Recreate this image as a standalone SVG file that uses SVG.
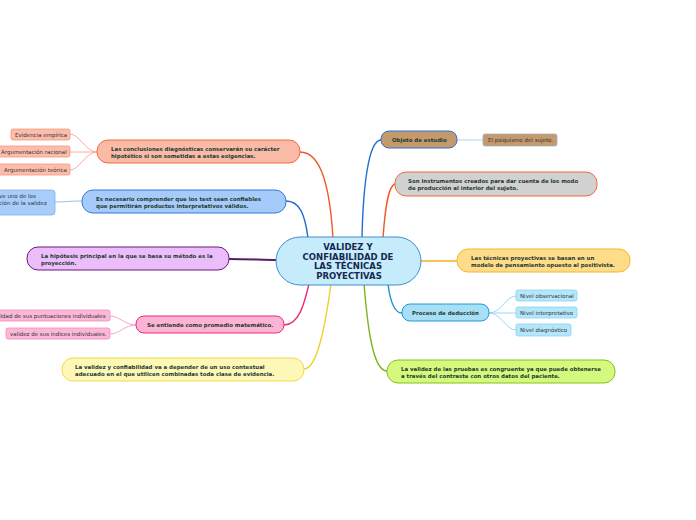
<svg xmlns="http://www.w3.org/2000/svg" width="696" height="520" viewBox="0 0 696 520">
<style>
text{font-family:"DejaVu Sans","Liberation Sans",Arial,sans-serif;}
.t{font-size:5.45px;font-weight:bold;fill:#1f3a30;}
.c{font-size:5.5px;fill:#333333;}
.ctr{font-size:8.5px;font-weight:bold;fill:#15284f;}
.conn path{fill:none;stroke-linecap:round;}
</style>
<rect width="696" height="520" fill="#ffffff"/>
<g id="connectors" class="conn">
<path d="M300,152 C322,152 330,190 333,238" stroke="#f05a28" stroke-width="1.4"/>
<path d="M286,201 C300,201 305,215 308,238" stroke="#1f6fd0" stroke-width="1.4"/>
<path d="M229,259 C250,259 262,260 277,260" stroke="#5a1a6a" stroke-width="2"/>
<path d="M284,325 C300,325 305,300 309,284" stroke="#ee2a7b" stroke-width="1.4"/>
<path d="M304,369 C318,369 326,320 331,284" stroke="#ecd22c" stroke-width="1.4"/>
<path d="M381,140 C368,140 363,190 362,238" stroke="#1f6fd0" stroke-width="1.4"/>
<path d="M395,184 C388,186 385,210 383,238" stroke="#f05a28" stroke-width="1.4"/>
<path d="M421,261 C435,261 445,261 457,261" stroke="#f6b01e" stroke-width="1.4"/>
<path d="M402,313 C394,313 390,300 388,284" stroke="#1e8ed6" stroke-width="1.4"/>
<path d="M387,371 C372,371 367,320 364,284" stroke="#7ab51a" stroke-width="1.4"/>
<path d="M97,152 C85,152 80,134 70,134" stroke="#f9a38d" stroke-width="0.9"/>
<path d="M97,152 C85,152 80,152 70,152" stroke="#f9a38d" stroke-width="0.9"/>
<path d="M97,152 C85,152 80,170 70,170" stroke="#f9a38d" stroke-width="0.9"/>
<path d="M82,201 C70,201 65,202 55,202" stroke="#8fb9ef" stroke-width="0.9"/>
<path d="M136,325 C124,325 120,316 110,316" stroke="#f79ac6" stroke-width="0.9"/>
<path d="M136,325 C124,325 120,334 110,334" stroke="#f79ac6" stroke-width="0.9"/>
<path d="M457,140 C468,140 472,140 483,140" stroke="#a9c9ee" stroke-width="0.9"/>
<path d="M489,313 C502,313 505,296 516,296" stroke="#8fd3f2" stroke-width="0.9"/>
<path d="M489,313 C502,313 505,313 516,313" stroke="#8fd3f2" stroke-width="0.9"/>
<path d="M489,313 C502,313 505,330 516,330" stroke="#8fd3f2" stroke-width="0.9"/>
</g>
<g id="center">
<rect x="276" y="237" width="145" height="48" rx="24" fill="#c6ebfb" stroke="#3b8fd2" stroke-width="1"/>
<text class="ctr" text-anchor="middle"><tspan x="348" y="250">VALIDEZ Y</tspan><tspan x="348" y="259.5">CONFIABILIDAD DE</tspan><tspan x="348" y="269">LAS TÉCNICAS</tspan><tspan x="349" y="278.5">PROYECTIVAS</tspan></text>
</g>
<g id="n1">
<rect x="97" y="140" width="203" height="23" rx="11" fill="#f9bba7" stroke="#f26b3a" stroke-width="1"/>
<text class="t"><tspan x="111" y="151">Las conclusiones diagnósticas conservarán su carácter</tspan><tspan x="111" y="158">hipotético si son sometidas a estas exigencias.</tspan></text>
</g>
<g id="n1a"><rect x="11" y="129" width="59" height="11" rx="2" fill="#fbbdac" stroke="#f9977f" stroke-width="0.8"/><text class="c" x="15" y="136.5">Evidencia empírica</text></g>
<g id="n1b"><rect x="-2" y="146" width="72" height="11" rx="2" fill="#fbbdac" stroke="#f9977f" stroke-width="0.8"/><text class="c" x="1" y="153.5">Argumentación racional</text></g>
<g id="n1c"><rect x="-2" y="164" width="72" height="11" rx="2" fill="#fbbdac" stroke="#f9977f" stroke-width="0.8"/><text class="c" x="4" y="171.5">Argumentación teórica</text></g>
<g id="n2">
<rect x="82" y="190" width="204" height="23" rx="11" fill="#a6cbfa" stroke="#2f7bd8" stroke-width="1"/>
<text class="t"><tspan x="96" y="201">Es necesario comprender que los test sean confiables</tspan><tspan x="96" y="208">que permitirán productos interpretativos válidos.</tspan></text>
</g>
<g id="n2a"><rect x="-4" y="190" width="59" height="25" rx="3" fill="#a9cdfb" stroke="#7fb0ee" stroke-width="0.8"/><text class="c"><tspan x="-1" y="198">ve uno de los</tspan><tspan x="-1" y="205">ción de la validez</tspan></text></g>
<g id="n3">
<rect x="27" y="247" width="202" height="23" rx="11" fill="#ecbdfb" stroke="#6a1b7a" stroke-width="1"/>
<text class="t"><tspan x="41" y="258">La hipótesis principal en la que se basa su método es la</tspan><tspan x="41" y="265">proyección.</tspan></text>
</g>
<g id="n4">
<rect x="136" y="316" width="148" height="17" rx="8" fill="#fdb3d5" stroke="#ee2a7b" stroke-width="1"/>
<text class="t" x="147" y="327">Se entiende como promedio matemático.</text>
</g>
<g id="n4a"><rect x="-2" y="310" width="112" height="11" rx="2" fill="#fbb8d8" stroke="#f78bbd" stroke-width="0.8"/><text class="c" x="-1" y="317.5">lidad de sus puntuaciones individuales</text></g>
<g id="n4b"><rect x="6" y="328" width="104" height="11" rx="2" fill="#fbb8d8" stroke="#f78bbd" stroke-width="0.8"/><text class="c" x="10" y="335.5">validez de sus índices individuales.</text></g>
<g id="n5">
<rect x="62" y="358" width="242" height="23" rx="11" fill="#fef8b8" stroke="#f0d94a" stroke-width="1"/>
<text class="t"><tspan x="75" y="369">La validez y confiabilidad va a depender de un uso contextual</tspan><tspan x="75" y="376">adecuado en el que utilicen combinadas toda clase de evidencia.</tspan></text>
</g>
<g id="n6">
<rect x="381" y="131" width="76" height="17" rx="8" fill="#c49a6c" stroke="#2a72d0" stroke-width="1"/>
<text class="t" x="392" y="142">Objeto de estudio</text>
</g>
<g id="n6a"><rect x="483" y="134" width="74" height="12" rx="2" fill="#c49a6c" stroke="#9fb0c4" stroke-width="0.8"/><text class="c" x="488" y="142">El psiquismo del sujeto.</text></g>
<g id="n7">
<rect x="395" y="172" width="202" height="24" rx="11" fill="#d1d1d1" stroke="#f26b3a" stroke-width="1"/>
<text class="t"><tspan x="408" y="183">Son instrumentos creados para dar cuenta de los modo</tspan><tspan x="408" y="190">de producción al interior del sujeto.</tspan></text>
</g>
<g id="n8">
<rect x="457" y="249" width="173" height="23" rx="11" fill="#fedc8a" stroke="#f8b532" stroke-width="1"/>
<text class="t"><tspan x="471" y="260">Las técnicas proyectivas se basan en un</tspan><tspan x="471" y="267">modelo de pensamiento opuesto al positivista.</tspan></text>
</g>
<g id="n9">
<rect x="402" y="304" width="87" height="17" rx="8" fill="#a7dff7" stroke="#1e9ad6" stroke-width="1"/>
<text class="t" x="412" y="315">Proceso de deducción</text>
</g>
<g id="n9a"><rect x="516" y="290" width="61" height="11" rx="2" fill="#b5e6fb" stroke="#88d2f2" stroke-width="0.8"/><text class="c" x="520" y="297.5">Nivel observacional</text></g>
<g id="n9b"><rect x="516" y="307" width="61" height="11" rx="2" fill="#b5e6fb" stroke="#88d2f2" stroke-width="0.8"/><text class="c" x="520" y="314.5">Nivel interpretativo</text></g>
<g id="n9c"><rect x="516" y="324" width="55" height="12" rx="2" fill="#b5e6fb" stroke="#88d2f2" stroke-width="0.8"/><text class="c" x="520" y="332">Nivel diagnóstico</text></g>
<g id="n10">
<rect x="387" y="360" width="228" height="23" rx="11" fill="#d5f97c" stroke="#82c31c" stroke-width="1"/>
<text class="t"><tspan x="401" y="371">La validez de las pruebas es congruente ya que puede obtenerse</tspan><tspan x="401" y="378">a través del contraste con otros datos del paciente.</tspan></text>
</g>
</svg>
